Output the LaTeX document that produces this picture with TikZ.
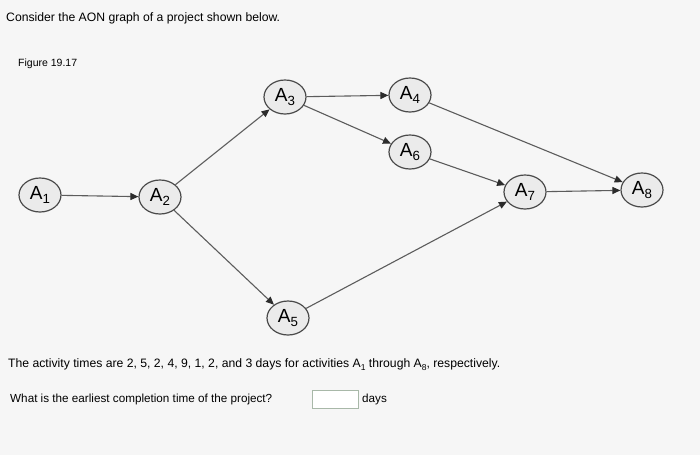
\documentclass[tikz,border=0pt]{standalone}
\usepackage{fontspec}
\setmainfont{Liberation Sans}
\usetikzlibrary{arrows.meta,shapes.geometric}
\definecolor{bg}{HTML}{F6F6F6}
\definecolor{ln}{HTML}{4A4A4A}
\definecolor{boxc}{HTML}{A8B8A8}
\newcommand{\sbs}[1]{\raisebox{-0.25em}{\fontsize{0.7em}{1em}\selectfont #1}}
\begin{document}
\begin{tikzpicture}[x=1pt,y=-1pt,
  act/.style={ellipse,draw=ln,line width=1.2pt,fill=white!92!black,minimum width=42pt,minimum height=34pt,inner sep=0pt,font=\fontsize{19}{19}\selectfont},
  con/.style={draw=ln!90,line width=1.1pt,-{Triangle[length=8pt,width=7pt,color=ln!60!black]}},
  txt/.style={anchor=west,inner sep=0pt,font=\fontsize{12.2}{14}\selectfont}]
\fill[bg] (0,0) rectangle (700,455);
\useasboundingbox (0,0) rectangle (700,455);
\node[txt] (t1) at (6,18) {Consider the AON graph of a project shown below.};
\node[txt,font=\fontsize{10.5}{12}\selectfont] (t2) at (18,64) {Figure 19.17};
\node[act] (a1) at (40,195) {A\sbs{1}};
\node[act] (a2) at (160,197) {A\sbs{2}};
\node[act] (a3) at (285,97) {A\sbs{3}};
\node[act] (a4) at (410,95) {A\sbs{4}};
\node[act] (a6) at (410,152) {A\sbs{6}};
\node[act] (a7) at (525,192) {A\sbs{7}};
\node[act] (a8) at (642,190) {A\sbs{8}};
\node[act] (a5) at (288,318) {A\sbs{5}};
\draw[con] (a1) -- (a2);
\draw[con] (a2) -- (a3);
\draw[con] (a2) -- (a5);
\draw[con] (a3) -- (a4);
\draw[con] (a3) -- (a6);
\draw[con] (a4) -- (a8);
\draw[con] (a6) -- (a7);
\draw[con] (a5) -- (a7);
\draw[con] (a7) -- (a8);
\node[txt] (t3) at (8,365) {The activity times are 2, 5, 2, 4, 9, 1, 2, and 3 days for activities A\sbs{1} through A\sbs{8}, respectively.};
\node[txt,font=\fontsize{11.7}{14}\selectfont] (t4) at (10,399) {What is the earliest completion time of the project?};
\node[draw=boxc,fill=white,minimum width=46pt,minimum height=18pt,inner sep=0pt] (box) at (335,399) {};
\node[txt,font=\fontsize{11.7}{14}\selectfont] (t5) at (362,399) {days};
\end{tikzpicture}
\end{document}
